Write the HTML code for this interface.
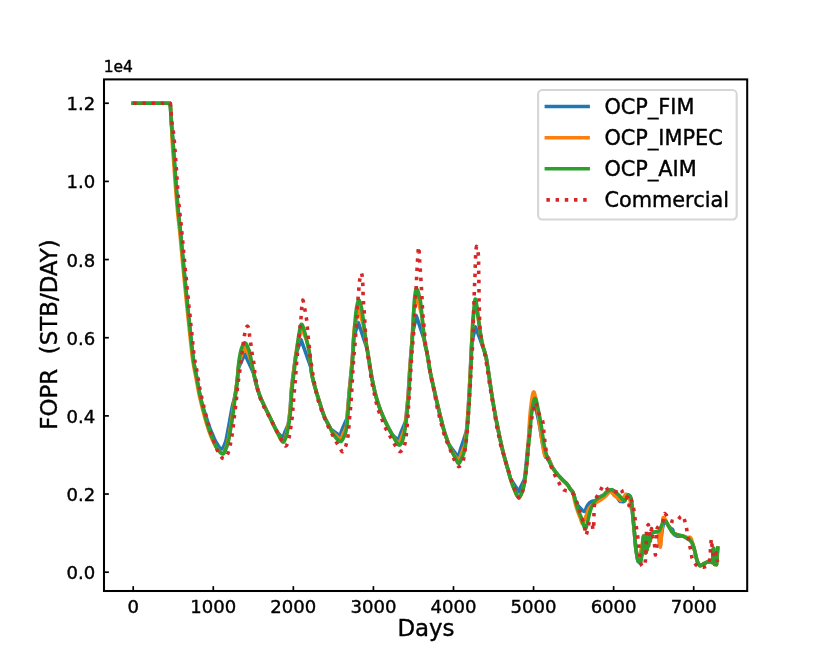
<!DOCTYPE html>
<html lang="en"><head><meta charset="utf-8"><title>FOPR</title>
<style>html,body{margin:0;padding:0;background:#fff;}body{width:830px;height:664px;overflow:hidden;}svg{display:block;}</style>
</head><body>
<svg width="830" height="664" viewBox="0 0 830 664">
<rect x="0" y="0" width="830" height="664" fill="#fff"/>
<g fill="none" stroke-linejoin="round">
<path d="M133.20 103.25 L138.80 103.25 L144.40 103.25 L150.00 103.25 L155.60 103.25 L161.20 103.25 L166.80 103.25 L170.00 103.25 L170.40 106.06 L170.80 112.56 L171.20 119.81 L171.60 125.34 L172.00 130.15 L172.40 134.85 L172.80 139.72 L173.20 144.99 L173.60 150.54 L174.00 156.19 L174.40 161.81 L174.80 167.50 L175.20 173.16 L175.60 178.66 L176.00 184.03 L176.40 189.30 L176.80 194.37 L177.20 199.24 L177.60 203.99 L178.00 208.56 L178.50 213.90 L178.80 216.85 L179.20 220.50 L179.60 223.99 L180.00 227.51 L180.50 232.20 L180.80 235.26 L181.20 239.53 L181.60 243.92 L182.00 248.33 L182.40 252.66 L182.80 257.00 L183.20 261.34 L183.60 265.63 L184.00 269.84 L184.40 273.97 L184.80 278.03 L185.20 282.06 L185.70 287.10 L186.00 290.14 L186.40 294.19 L186.80 298.23 L187.20 302.24 L187.60 306.18 L188.00 310.06 L188.40 313.89 L188.80 317.70 L189.40 323.40 L190.00 329.15 L190.40 332.98 L190.80 336.77 L191.30 341.40 L191.60 344.18 L192.00 347.94 L192.40 351.66 L192.80 355.18 L193.40 359.80 L194.00 363.62 L194.80 368.06 L195.60 372.10 L196.70 377.70 L197.60 382.63 L198.40 387.06 L199.20 391.35 L200.40 397.18 L201.60 402.33 L203.20 408.04 L204.80 412.88 L206.40 417.82 L208.00 422.78 L210.00 428.34 L212.00 433.33 L214.00 438.01 L215.60 441.44 L218.40 446.02 L219.60 447.69 L220.40 448.49 L220.80 448.77 L221.20 448.94 L221.60 449.00 L222.00 448.89 L222.40 448.59 L222.80 448.11 L223.60 446.74 L225.20 443.00 L225.60 441.79 L226.40 438.38 L227.20 434.22 L228.00 430.00 L228.80 425.78 L229.60 421.33 L230.40 416.89 L231.20 412.30 L232.30 406.50 L233.60 401.55 L234.80 396.51 L235.60 392.05 L236.40 386.81 L236.80 383.91 L237.30 380.00 L237.60 377.20 L238.00 372.64 L238.40 368.08 L240.80 362.80 L243.20 357.52 L244.80 354.00 L247.20 359.28 L249.60 364.56 L252.00 369.84 L253.60 373.36 L254.00 374.67 L255.20 380.00 L256.40 384.73 L258.00 390.42 L259.60 395.16 L261.60 400.09 L264.00 405.30 L266.40 410.29 L268.80 415.00 L271.20 419.96 L273.60 425.09 L276.00 429.99 L277.30 432.30 L281.20 436.20 L282.80 437.80 L284.72 432.52 L287.05 427.24 L287.85 425.48 L288.25 424.21 L289.05 418.96 L289.45 415.83 L289.85 412.28 L290.25 408.12 L290.65 401.60 L291.05 394.49 L291.45 389.46 L291.85 385.48 L292.25 382.00 L292.65 378.80 L293.05 375.67 L293.45 372.40 L293.89 368.98 L294.34 365.57 L294.78 362.20 L295.23 358.90 L295.89 354.10 L297.89 348.60 L299.60 343.80 L301.00 339.60 L302.80 344.64 L304.80 350.24 L306.80 355.84 L308.80 361.44 L310.80 367.04 L311.50 372.40 L312.40 377.20 L313.60 382.21 L315.20 387.99 L316.80 393.39 L318.40 398.63 L320.00 403.81 L321.60 408.80 L323.20 413.56 L324.90 418.00 L327.60 423.09 L330.00 427.49 L330.80 429.17 L331.20 429.58 L336.00 432.94 L339.80 435.60 L340.73 433.40 L342.65 428.12 L345.05 422.84 L346.65 419.32 L347.05 417.92 L347.45 412.90 L347.85 408.14 L348.25 403.26 L348.65 398.22 L349.05 393.31 L349.45 388.82 L349.85 384.73 L350.25 380.80 L350.65 376.78 L351.06 372.40 L351.51 367.66 L351.95 362.61 L352.39 357.09 L352.62 354.10 L352.84 350.73 L353.28 343.10 L353.61 337.80 L353.73 336.78 L355.50 331.66 L357.20 326.54 L358.40 322.70 L360.00 327.50 L361.60 332.30 L363.20 337.10 L364.80 341.90 L366.40 346.70 L367.20 349.36 L368.00 354.17 L368.80 359.19 L369.60 364.34 L370.40 369.42 L371.20 374.24 L372.00 378.60 L372.80 382.57 L374.00 388.18 L375.20 393.30 L376.40 397.87 L378.00 403.14 L379.60 407.82 L381.60 413.04 L383.60 417.77 L386.00 423.01 L388.40 427.80 L391.20 432.89 L392.80 435.52 L397.20 439.04 L398.40 440.00 L400.09 435.20 L401.05 432.32 L403.05 427.52 L405.05 422.72 L405.45 421.76 L406.05 417.50 L406.25 415.67 L406.65 411.45 L407.15 406.00 L407.45 403.05 L407.95 397.80 L408.25 393.66 L408.65 387.26 L408.85 384.00 L409.05 380.70 L409.45 373.85 L409.78 368.90 L409.89 367.34 L410.34 361.32 L410.78 355.61 L411.23 350.41 L411.67 344.80 L412.11 337.87 L412.56 333.30 L413.45 329.30 L414.33 325.30 L415.20 321.30 L416.30 315.80 L418.00 320.90 L419.60 325.70 L421.20 330.50 L423.00 335.90 L424.00 338.90 L424.40 340.29 L425.20 344.99 L426.40 350.21 L427.20 354.00 L428.00 358.83 L428.80 364.08 L429.60 368.90 L430.40 372.99 L431.60 378.59 L432.80 383.87 L434.00 389.10 L435.20 394.69 L436.40 399.97 L437.60 404.94 L438.80 409.98 L440.10 415.40 L441.20 419.78 L442.40 424.40 L443.60 428.98 L445.20 434.44 L447.20 440.02 L448.80 444.20 L452.00 448.68 L455.20 453.16 L458.30 457.50 L459.67 452.40 L460.65 448.80 L462.25 444.00 L463.85 439.20 L465.45 434.40 L466.25 432.00 L466.65 428.90 L467.05 424.40 L467.45 419.40 L467.85 413.95 L468.25 408.08 L468.65 401.41 L468.85 397.80 L469.06 394.04 L469.51 386.07 L469.95 377.63 L470.39 368.90 L470.39 368.90 L470.84 359.56 L471.28 350.05 L471.39 347.80 L471.73 342.30 L473.06 337.02 L474.39 331.74 L475.50 326.90 L477.20 331.49 L479.20 336.89 L481.20 342.29 L483.20 347.69 L484.80 352.42 L485.70 355.50 L486.40 358.90 L487.20 363.69 L488.00 368.96 L488.80 374.20 L489.60 379.71 L490.40 385.40 L491.20 390.90 L492.00 396.00 L492.80 400.92 L493.60 405.69 L494.40 410.30 L495.30 415.30 L496.40 421.02 L497.20 424.98 L498.00 428.92 L499.20 434.78 L500.40 440.48 L501.60 445.92 L502.80 451.00 L504.00 455.66 L505.60 461.41 L507.20 466.95 L508.80 472.69 L510.40 478.36 L513.20 482.84 L516.00 487.32 L518.80 491.80 L520.72 487.00 L523.15 482.00 L524.25 479.80 L524.65 477.58 L525.05 474.28 L525.45 470.79 L526.05 465.40 L526.25 463.47 L526.65 459.05 L527.05 454.36 L527.45 450.00 L527.85 446.26 L528.25 442.84 L528.65 439.42 L529.25 433.60 L529.45 431.11 L529.89 424.97 L530.34 418.95 L530.78 415.00 L531.67 410.87 L532.56 407.65 L533.00 406.47 L533.45 405.61 L533.89 405.12 L534.22 405.00 L534.33 405.02 L534.78 405.44 L535.20 406.33 L536.00 409.05 L537.20 413.77 L538.40 419.33 L539.20 423.60 L540.00 428.00 L540.80 432.80 L541.60 438.00 L542.40 442.92 L543.20 446.92 L544.40 452.67 L545.20 455.80 L545.60 456.85 L546.00 457.42 L546.20 457.50 L546.40 457.40 L546.80 456.91 L547.10 456.70 L547.60 456.88 L548.00 457.27 L548.40 457.84 L549.20 459.41 L551.20 464.58 L552.40 467.41 L555.60 472.09 L559.20 476.34 L563.20 480.44 L566.80 483.84 L568.40 485.85 L570.00 488.80 L572.40 491.44 L572.90 492.20 L573.20 492.85 L574.00 495.50 L575.20 500.13 L575.80 501.80 L577.60 505.00 L579.20 507.13 L582.40 510.33 L583.20 510.95 L584.00 511.33 L584.50 511.40 L584.80 511.26 L585.20 510.70 L586.80 506.68 L587.30 505.70 L588.80 503.61 L589.60 502.75 L591.20 501.77 L593.20 501.05 L595.20 500.78 L595.60 500.63 L596.40 500.01 L598.40 497.89 L599.60 497.09 L603.20 495.41 L604.00 494.87 L606.80 491.81 L607.60 491.20 L610.00 490.06 L611.60 489.81 L612.40 490.00 L613.60 490.69 L615.30 492.20 L615.60 492.60 L616.00 493.39 L617.60 497.69 L618.40 499.20 L619.60 500.95 L620.00 501.35 L620.40 501.57 L623.60 501.59 L624.00 501.42 L624.40 501.05 L626.80 497.31 L627.60 495.69 L628.00 495.14 L628.40 495.01 L628.80 495.13 L629.20 495.39 L630.20 496.50 L630.40 496.85 L630.80 498.02 L631.40 500.80 L631.60 502.39 L632.10 508.10 L632.40 511.28 L632.90 516.60 L633.20 519.72 L633.60 523.81 L634.00 527.97 L634.40 532.37 L634.80 537.32 L635.20 542.26 L635.80 548.20 L636.40 552.54 L637.20 557.55 L637.60 559.46 L638.00 560.81 L638.40 561.53 L639.20 562.36 L639.60 562.61 L640.00 562.70 L640.40 562.19 L640.80 560.81 L641.60 556.25 L642.00 553.42 L642.40 548.96 L642.80 543.02 L643.00 539.80 L643.60 536.00 L644.20 552.00 L644.90 537.00 L645.60 553.00 L646.30 536.00 L647.00 550.00 L647.70 535.00 L648.50 546.00 L649.30 534.50 L650.20 541.00 L651.00 533.70 L652.60 532.58 L653.80 532.09 L655.10 531.90 L656.60 532.09 L657.80 532.57 L658.50 533.00 L658.60 533.23 L659.00 536.63 L659.40 541.79 L659.80 545.77 L660.00 546.40 L660.20 546.00 L660.60 543.32 L661.00 539.33 L661.60 534.00 L662.20 530.27 L663.00 525.79 L663.40 524.26 L663.80 523.50 L664.60 522.99 L665.40 522.67 L666.00 522.60 L666.20 522.64 L666.60 522.90 L667.00 523.36 L668.60 525.97 L670.20 527.79 L671.00 528.50 L672.20 529.16 L672.60 529.50 L673.00 530.60 L673.80 533.93 L674.00 534.30 L675.40 535.34 L676.60 535.88 L678.20 536.10 L683.00 536.11 L683.80 536.27 L685.40 537.05 L689.80 540.06 L691.40 541.73 L692.20 543.13 L693.80 547.30 L695.00 552.09 L696.20 557.30 L697.00 560.58 L698.20 563.30 L699.00 564.68 L699.40 565.19 L699.80 565.53 L700.30 565.70 L700.60 565.66 L701.40 565.28 L703.40 563.85 L706.60 562.28 L707.80 562.01 L713.00 562.00 L712.40 562.50 L713.50 548.20 L714.60 564.50 L715.60 553.00 L716.50 564.60 L717.70 548.20" stroke="#1f77b4" stroke-width="3.6" stroke-linecap="square"/>
<path d="M133.20 103.25 L138.80 103.25 L144.40 103.25 L150.00 103.25 L155.60 103.25 L161.20 103.25 L166.80 103.25 L170.00 103.25 L170.40 105.68 L170.80 111.64 L171.20 119.12 L171.40 122.80 L171.60 126.98 L172.00 136.84 L172.20 141.00 L172.40 144.30 L172.80 149.94 L173.20 155.02 L173.60 160.40 L174.00 166.08 L174.40 171.76 L174.80 177.30 L175.20 182.70 L175.60 188.00 L176.00 193.12 L176.40 198.03 L176.80 202.82 L177.20 207.44 L177.60 211.82 L178.00 215.89 L178.40 219.61 L178.80 223.12 L179.20 226.62 L179.80 232.20 L180.00 234.22 L180.40 238.45 L180.80 242.82 L181.20 247.23 L181.60 251.58 L182.00 255.91 L182.40 260.26 L182.80 264.57 L183.20 268.80 L183.60 272.94 L184.00 277.02 L184.40 281.05 L184.80 285.08 L185.20 289.12 L185.60 293.18 L186.00 297.23 L186.40 301.24 L186.80 305.20 L187.20 309.09 L187.60 312.94 L188.00 316.75 L188.40 320.55 L188.80 324.35 L189.20 328.19 L189.60 332.02 L190.00 335.82 L190.60 341.40 L191.20 347.00 L191.60 350.74 L192.00 354.33 L192.70 359.80 L193.60 365.35 L194.40 369.60 L195.20 373.59 L196.00 377.70 L196.80 382.08 L197.60 386.51 L198.40 390.83 L199.40 395.80 L200.40 400.17 L201.60 405.00 L202.80 409.80 L204.00 414.52 L205.20 419.00 L206.80 424.38 L208.40 429.31 L210.40 434.96 L212.70 440.50 L215.20 445.54 L216.80 448.16 L220.00 452.02 L221.20 453.12 L222.00 453.60 L222.90 453.80 L223.16 453.74 L223.49 453.48 L223.82 453.03 L224.48 451.68 L226.35 446.62 L227.15 444.25 L227.95 441.05 L228.75 437.11 L229.55 432.70 L230.35 428.05 L231.15 423.26 L231.95 417.92 L232.75 412.17 L233.15 409.18 L233.55 406.15 L233.99 403.10 L234.53 399.30 L235.29 394.00 L235.73 390.91 L236.17 387.73 L236.60 384.41 L237.15 380.00 L237.47 376.97 L237.91 372.31 L238.35 367.44 L238.78 362.89 L239.20 361.30 L241.20 356.30 L243.20 351.30 L245.20 346.30 L247.20 351.30 L249.20 356.30 L251.20 361.30 L251.60 362.39 L252.40 366.87 L253.20 370.84 L254.40 376.53 L255.60 381.61 L256.80 386.23 L258.40 391.71 L260.40 397.23 L262.40 401.87 L264.80 407.00 L267.20 411.86 L269.60 416.61 L272.00 421.67 L274.40 426.77 L276.80 431.50 L279.20 436.21 L280.80 439.38 L281.60 440.65 L282.40 441.55 L282.80 441.83 L283.33 442.00 L283.49 441.95 L283.82 441.60 L284.15 440.97 L285.95 435.77 L286.75 432.52 L287.55 428.60 L288.35 424.21 L289.15 418.96 L289.55 415.83 L289.95 412.28 L290.35 408.12 L290.75 401.60 L291.15 394.49 L291.55 389.46 L291.95 385.48 L292.35 382.00 L292.75 378.80 L293.15 375.67 L293.55 372.40 L293.99 368.98 L294.42 365.57 L294.86 362.20 L295.29 358.90 L295.95 354.10 L296.60 349.61 L297.47 343.74 L297.91 341.60 L299.60 336.00 L301.20 330.40 L301.80 328.30 L304.00 333.80 L306.00 338.80 L306.80 340.90 L308.00 345.84 L308.80 349.53 L309.60 354.10 L310.00 357.38 L310.40 361.60 L310.80 366.06 L311.20 370.08 L311.60 373.02 L312.40 377.20 L313.60 382.21 L315.20 387.99 L316.80 393.39 L318.40 398.63 L320.00 403.81 L321.60 408.80 L323.20 413.56 L324.90 418.00 L327.60 423.09 L330.00 427.49 L332.00 431.60 L336.00 435.60 L340.00 439.60 L340.66 440.30 L342.75 434.80 L345.15 429.52 L346.05 427.54 L346.35 426.58 L346.75 422.67 L347.15 417.92 L347.55 412.90 L347.95 408.14 L348.35 403.26 L348.75 398.22 L349.15 393.31 L349.55 388.82 L349.95 384.73 L350.35 380.80 L350.75 376.78 L351.16 372.40 L351.60 367.66 L352.03 362.61 L352.47 357.09 L352.69 354.10 L352.90 350.73 L353.34 343.10 L353.67 337.80 L353.78 336.23 L354.21 330.10 L354.65 325.90 L355.96 321.10 L357.20 316.30 L358.40 311.50 L358.90 309.50 L360.40 314.75 L362.00 320.35 L363.60 325.95 L364.00 327.35 L364.40 329.53 L364.80 333.03 L365.40 337.80 L366.00 341.92 L366.80 346.95 L367.60 351.75 L368.40 356.65 L369.20 361.76 L370.00 366.90 L370.80 371.88 L371.60 376.49 L372.40 380.61 L373.60 386.36 L374.80 391.65 L376.00 396.41 L377.60 401.88 L379.20 406.70 L381.20 412.05 L383.20 416.86 L385.60 422.17 L388.00 427.03 L390.80 432.19 L393.60 436.90 L395.20 439.80 L399.25 443.90 L400.80 439.15 L402.75 434.15 L404.35 430.15 L404.75 428.23 L405.55 422.41 L406.15 417.50 L406.35 415.67 L406.75 411.45 L407.25 406.00 L407.55 403.05 L408.05 397.80 L408.35 393.66 L408.75 387.26 L408.95 384.00 L409.15 380.70 L409.55 373.85 L409.88 368.90 L409.99 367.34 L410.42 361.32 L410.86 355.61 L411.29 350.41 L411.73 344.80 L412.17 337.87 L412.60 330.20 L412.82 326.40 L413.04 322.43 L413.47 313.72 L413.91 310.50 L414.78 306.50 L415.60 302.50 L416.40 298.50 L416.90 296.00 L418.00 300.40 L419.20 305.20 L420.40 310.00 L421.60 314.80 L422.00 316.40 L422.40 320.24 L422.80 324.44 L423.20 328.39 L423.60 332.64 L424.00 336.80 L424.50 341.00 L425.20 344.99 L426.40 350.21 L427.20 354.00 L428.00 358.83 L428.80 364.08 L429.60 368.90 L430.40 372.99 L431.60 378.59 L432.80 383.87 L434.00 389.10 L435.20 394.69 L436.40 399.97 L437.60 404.94 L438.80 409.98 L440.10 415.40 L441.20 419.78 L442.40 424.40 L443.60 428.98 L445.20 434.44 L447.20 440.02 L449.20 445.28 L451.20 450.06 L454.00 454.54 L456.80 459.02 L458.58 461.90 L460.39 456.40 L462.35 451.40 L464.55 445.90 L465.15 444.40 L465.55 441.09 L465.95 437.25 L466.35 433.13 L466.75 428.90 L467.15 424.40 L467.55 419.40 L467.95 413.95 L468.35 408.08 L468.75 401.41 L468.95 397.80 L469.16 394.04 L469.60 386.07 L470.03 377.63 L470.47 368.90 L470.47 368.90 L470.90 359.56 L471.34 350.05 L471.45 347.80 L471.78 340.96 L472.21 331.76 L472.65 323.60 L473.08 317.90 L473.96 313.10 L474.80 308.30 L475.60 303.50 L476.80 308.30 L477.20 309.90 L477.60 312.60 L478.00 315.92 L478.80 321.78 L479.20 324.83 L479.60 327.89 L480.40 333.40 L481.20 337.97 L482.00 342.10 L483.30 347.80 L484.80 352.42 L485.70 355.50 L486.40 358.90 L487.20 363.69 L488.00 368.96 L488.80 374.20 L489.60 379.71 L490.40 385.40 L491.20 390.90 L492.00 396.00 L492.80 400.92 L493.60 405.69 L494.40 410.30 L495.30 415.30 L496.40 421.02 L497.20 424.98 L498.00 428.92 L499.20 434.78 L500.40 440.48 L501.60 445.92 L502.80 451.00 L504.00 455.66 L505.60 461.41 L507.20 466.95 L508.80 472.69 L510.40 478.46 L512.00 483.66 L514.00 488.80 L516.00 493.61 L516.80 495.18 L517.60 496.37 L518.00 496.79 L518.40 497.07 L518.90 497.20 L519.20 497.14 L519.60 496.90 L520.00 496.47 L520.80 495.14 L521.60 493.27 L523.20 488.34 L524.00 485.36 L524.80 480.59 L525.20 477.58 L525.60 474.28 L526.00 470.79 L526.60 465.40 L527.20 459.70 L527.60 455.26 L528.00 450.00 L528.40 442.42 L528.80 433.67 L529.00 430.00 L529.20 426.83 L529.60 420.77 L530.00 415.31 L530.40 410.72 L530.80 407.21 L531.20 404.07 L532.00 398.26 L532.40 395.83 L532.80 393.89 L533.20 392.54 L533.60 391.93 L533.70 391.90 L534.00 392.10 L534.40 392.94 L534.80 394.28 L536.00 400.00 L536.80 404.13 L537.60 409.34 L538.40 415.21 L539.20 421.00 L540.00 426.77 L540.40 429.76 L541.20 435.60 L542.00 440.84 L542.80 445.54 L543.60 450.31 L544.40 454.14 L544.80 455.39 L545.20 456.00 L547.20 456.76 L547.60 457.12 L548.40 458.27 L550.40 462.78 L552.00 466.62 L553.20 468.76 L556.40 473.09 L560.00 477.23 L564.00 481.14 L566.80 483.84 L568.40 485.85 L570.00 488.80 L570.80 489.72 L572.00 490.83 L572.40 491.34 L572.90 492.20 L573.20 493.18 L574.00 497.80 L574.50 500.50 L576.00 506.13 L577.60 511.08 L579.60 516.26 L580.40 518.26 L581.60 522.04 L582.00 523.00 L582.40 523.48 L582.50 523.50 L582.80 523.38 L583.20 522.92 L584.00 521.29 L585.60 517.54 L587.20 512.87 L588.40 509.64 L588.80 508.80 L589.60 507.63 L591.20 505.98 L596.00 502.62 L601.20 499.69 L605.70 496.20 L608.80 492.59 L609.60 491.91 L610.00 491.70 L610.50 491.60 L610.80 491.65 L611.20 491.86 L612.00 492.63 L614.00 495.21 L618.40 498.56 L620.00 500.06 L620.40 500.33 L621.00 500.50 L621.20 500.46 L621.60 500.18 L624.00 496.85 L625.20 495.00 L625.60 494.55 L626.00 494.27 L626.40 494.21 L626.80 494.35 L627.20 494.66 L628.00 495.61 L628.80 496.83 L629.20 497.69 L629.60 498.80 L630.20 501.00 L630.40 502.31 L630.80 506.20 L631.20 508.40 L632.10 508.10 L632.40 510.05 L632.80 515.43 L633.20 519.72 L633.60 523.81 L634.00 527.97 L634.40 532.39 L634.80 537.43 L635.20 542.45 L635.80 548.20 L636.40 551.86 L636.80 553.88 L637.20 555.46 L637.60 556.50 L638.40 557.83 L638.80 558.28 L639.30 558.50 L639.60 557.96 L640.00 556.00 L640.80 551.00 L641.60 546.95 L642.40 542.88 L643.00 539.80 L643.60 536.00 L644.20 552.00 L644.90 537.00 L645.60 553.00 L646.30 536.00 L647.00 550.00 L647.70 535.00 L648.50 546.00 L649.30 534.50 L650.20 541.00 L651.00 533.70 L652.20 532.80 L653.40 532.21 L654.60 531.93 L655.80 531.95 L657.00 532.28 L658.30 533.00 L658.60 534.00 L659.00 537.15 L659.40 541.20 L659.80 544.88 L660.20 546.90 L660.30 547.00 L660.60 545.87 L661.00 541.75 L661.40 536.23 L661.80 531.04 L662.20 526.73 L662.60 522.06 L663.00 518.49 L663.30 517.50 L663.80 517.68 L664.20 518.04 L665.40 519.65 L665.80 520.41 L667.50 524.50 L670.20 529.00 L671.80 531.64 L672.60 532.62 L673.40 533.22 L679.00 535.18 L683.40 536.30 L686.20 537.39 L687.50 537.60 L690.00 537.30 L690.20 537.35 L690.60 537.72 L691.00 538.40 L691.80 540.49 L693.40 546.00 L694.60 550.43 L695.80 555.48 L696.60 559.07 L697.00 560.58 L698.20 563.30 L699.00 564.68 L699.40 565.19 L699.80 565.53 L700.30 565.70 L700.60 565.66 L701.40 565.28 L703.40 563.85 L706.60 562.28 L707.80 562.01 L713.00 562.00 L712.40 562.50 L713.50 548.20 L714.60 564.50 L715.60 553.00 L716.50 564.60 L717.70 548.20" stroke="#ff7f0e" stroke-width="3.6" stroke-linecap="square"/>
<path d="M133.20 103.25 L138.80 103.25 L144.40 103.25 L150.00 103.25 L155.60 103.25 L161.20 103.25 L166.80 103.25 L170.00 103.25 L170.40 106.06 L170.80 112.56 L171.20 119.81 L171.60 125.34 L172.00 130.15 L172.40 134.85 L172.80 139.72 L173.20 144.99 L173.60 150.54 L174.00 156.19 L174.40 161.81 L174.80 167.50 L175.20 173.16 L175.60 178.66 L176.00 184.03 L176.40 189.30 L176.80 194.37 L177.20 199.24 L177.60 203.99 L178.00 208.56 L178.50 213.90 L178.80 216.85 L179.20 220.50 L179.60 223.99 L180.00 227.51 L180.50 232.20 L180.80 235.26 L181.20 239.53 L181.60 243.92 L182.00 248.33 L182.40 252.66 L182.80 257.00 L183.20 261.34 L183.60 265.63 L184.00 269.84 L184.40 273.97 L184.80 278.03 L185.20 282.06 L185.70 287.10 L186.00 290.14 L186.40 294.19 L186.80 298.23 L187.20 302.24 L187.60 306.18 L188.00 310.06 L188.40 313.89 L188.80 317.70 L189.40 323.40 L190.00 329.15 L190.40 332.98 L190.80 336.77 L191.30 341.40 L191.60 344.18 L192.00 347.94 L192.40 351.66 L192.80 355.18 L193.40 359.80 L194.00 363.62 L194.80 368.06 L195.60 372.10 L196.70 377.70 L197.60 382.63 L198.40 387.06 L199.20 391.35 L200.40 397.16 L201.60 402.20 L202.80 407.00 L204.00 411.78 L205.20 416.42 L206.80 422.12 L208.40 427.15 L210.00 431.79 L212.00 437.10 L214.00 441.92 L216.00 446.50 L217.20 448.65 L220.00 452.07 L221.20 453.14 L222.00 453.60 L222.90 453.80 L223.20 453.74 L223.60 453.48 L224.00 453.03 L224.80 451.68 L226.80 446.62 L227.60 444.25 L228.40 441.05 L229.20 437.11 L230.00 432.70 L230.80 428.05 L231.60 423.26 L232.40 417.92 L233.20 412.17 L233.60 409.18 L234.00 406.15 L234.40 403.10 L234.90 399.30 L235.60 394.00 L236.00 390.91 L236.40 387.73 L236.80 384.41 L237.30 380.00 L237.60 376.97 L238.00 372.31 L238.40 367.44 L238.80 362.89 L239.40 357.80 L240.40 352.57 L241.20 349.34 L242.00 346.97 L243.20 344.51 L244.00 343.29 L244.40 342.93 L244.80 342.80 L245.20 342.90 L245.60 343.17 L246.00 343.61 L246.80 344.90 L249.00 350.10 L249.60 352.07 L250.40 355.73 L251.20 360.10 L252.00 364.67 L252.90 369.40 L254.00 374.67 L255.20 380.00 L256.40 384.73 L258.00 390.42 L259.60 395.16 L261.60 400.09 L264.00 405.30 L266.40 410.29 L268.80 415.00 L271.20 419.96 L273.60 425.09 L276.00 429.99 L278.40 434.53 L280.80 439.38 L281.60 440.65 L282.40 441.55 L282.80 441.83 L283.40 442.00 L283.60 441.95 L284.00 441.60 L284.40 440.97 L286.00 437.03 L286.80 434.25 L288.00 428.60 L288.80 424.21 L289.60 418.96 L290.00 415.83 L290.40 412.28 L290.80 408.12 L291.20 401.60 L291.60 394.49 L292.00 389.46 L292.40 385.48 L292.80 382.00 L293.20 378.80 L293.60 375.67 L294.00 372.40 L294.40 368.98 L294.80 365.57 L295.20 362.20 L295.60 358.90 L296.20 354.10 L296.80 349.61 L297.60 343.74 L298.00 340.52 L298.80 334.80 L299.60 330.48 L300.40 326.70 L301.00 324.85 L301.20 324.50 L301.50 324.30 L301.80 324.41 L302.00 324.59 L302.40 325.20 L303.20 327.17 L304.90 332.80 L306.00 337.32 L307.20 342.55 L308.40 347.61 L309.20 351.67 L309.60 354.10 L310.00 357.38 L310.40 361.60 L310.80 366.06 L311.20 370.08 L311.60 373.02 L312.40 377.20 L313.60 382.21 L315.20 387.99 L316.80 393.39 L318.40 398.63 L320.00 403.81 L321.60 408.80 L323.20 413.56 L324.90 418.00 L327.60 423.09 L330.00 427.49 L332.40 432.49 L334.80 436.37 L336.80 438.85 L339.20 440.96 L340.00 441.44 L340.80 441.59 L341.20 441.43 L341.60 441.08 L342.40 439.94 L344.40 435.93 L345.20 433.81 L346.00 430.93 L346.50 428.60 L346.80 426.58 L347.20 422.67 L347.60 417.92 L348.00 412.90 L348.40 408.14 L348.80 403.26 L349.20 398.22 L349.60 393.31 L350.00 388.82 L350.40 384.73 L350.80 380.80 L351.20 376.78 L351.60 372.40 L352.00 367.66 L352.40 362.61 L352.80 357.09 L353.00 354.10 L353.20 350.73 L353.60 343.10 L353.90 337.80 L354.00 336.23 L354.40 330.10 L354.80 324.47 L355.30 318.60 L355.60 315.65 L356.00 312.02 L356.40 308.91 L356.90 306.00 L357.60 302.93 L358.00 301.48 L358.40 300.47 L358.80 300.10 L358.90 300.12 L359.20 300.36 L359.60 301.08 L360.00 302.15 L361.20 306.50 L361.60 308.36 L362.40 313.50 L363.20 319.33 L363.60 322.52 L364.00 325.97 L364.40 329.53 L364.80 333.03 L365.40 337.80 L366.00 341.92 L366.80 346.95 L367.60 351.75 L368.40 356.65 L369.20 361.76 L370.00 366.90 L370.80 371.88 L371.60 376.49 L372.40 380.61 L373.60 386.36 L374.80 391.65 L376.00 396.41 L377.60 401.88 L379.20 406.70 L381.20 412.05 L383.20 416.86 L385.60 422.17 L388.00 427.03 L390.80 432.19 L393.60 436.90 L396.40 442.07 L397.60 443.88 L398.40 444.70 L398.80 444.95 L399.40 445.10 L399.60 445.07 L400.00 444.87 L400.40 444.50 L401.20 443.36 L402.40 441.06 L402.80 439.91 L403.60 436.79 L404.40 433.00 L405.20 428.23 L406.00 422.41 L406.60 417.50 L406.80 415.67 L407.20 411.45 L407.70 406.00 L408.00 403.05 L408.50 397.80 L408.80 393.66 L409.20 387.26 L409.40 384.00 L409.60 380.70 L410.00 373.85 L410.30 368.90 L410.40 367.34 L410.80 361.32 L411.20 355.61 L411.60 350.41 L412.00 344.80 L412.40 337.87 L412.80 330.20 L413.00 326.40 L413.20 322.43 L413.60 313.72 L414.00 305.60 L414.40 300.00 L414.80 296.42 L415.20 293.24 L415.60 290.74 L416.00 289.18 L416.30 288.80 L416.80 289.05 L417.20 289.59 L417.60 290.39 L418.40 292.65 L419.60 297.24 L420.40 301.00 L420.80 303.91 L421.20 307.50 L421.60 311.56 L422.00 315.88 L422.40 320.24 L422.80 324.44 L423.20 328.39 L423.60 332.64 L424.00 336.80 L424.50 341.00 L425.20 344.99 L426.40 350.21 L427.20 354.00 L428.00 358.83 L428.80 364.08 L429.60 368.90 L430.40 372.99 L431.60 378.59 L432.80 383.87 L434.00 389.10 L435.20 394.69 L436.40 399.97 L437.60 404.94 L438.80 409.98 L440.10 415.40 L441.20 419.78 L442.40 424.40 L443.60 428.98 L445.20 434.44 L447.20 440.02 L449.20 445.28 L451.20 450.10 L453.60 454.91 L455.60 458.57 L457.20 461.93 L457.60 462.60 L458.00 463.09 L458.40 463.36 L458.80 463.36 L459.20 463.10 L459.60 462.62 L460.40 461.16 L462.80 455.70 L463.60 453.51 L464.40 450.76 L465.20 447.15 L465.60 444.45 L466.00 441.09 L466.40 437.25 L466.80 433.13 L467.20 428.90 L467.60 424.40 L468.00 419.40 L468.40 413.95 L468.80 408.08 L469.20 401.41 L469.40 397.80 L469.60 394.04 L470.00 386.07 L470.40 377.63 L470.80 368.90 L470.80 368.90 L471.20 359.56 L471.60 350.05 L471.70 347.80 L472.00 340.96 L472.40 331.76 L472.80 323.60 L473.10 318.90 L473.20 317.60 L473.60 312.42 L474.00 307.56 L474.40 303.45 L474.80 300.48 L475.20 299.06 L475.30 299.00 L475.50 299.16 L476.00 300.75 L476.40 303.02 L476.80 305.91 L477.20 309.18 L477.60 312.60 L478.00 315.92 L478.80 321.78 L479.20 324.83 L479.60 327.89 L480.40 333.40 L481.20 337.97 L482.00 342.10 L483.30 347.80 L484.80 352.42 L485.70 355.50 L486.40 358.90 L487.20 363.69 L488.00 368.96 L488.80 374.20 L489.60 379.71 L490.40 385.40 L491.20 390.90 L492.00 396.00 L492.80 400.92 L493.60 405.69 L494.40 410.30 L495.30 415.30 L496.40 421.02 L497.20 424.98 L498.00 428.92 L499.20 434.78 L500.40 440.48 L501.60 445.92 L502.80 451.00 L504.00 455.66 L505.60 461.41 L507.20 466.95 L508.80 472.69 L510.40 478.46 L512.00 483.66 L514.00 488.80 L516.00 493.61 L516.80 495.18 L517.60 496.37 L518.00 496.79 L518.40 497.07 L518.90 497.20 L519.20 497.14 L519.60 496.90 L520.00 496.47 L520.80 495.14 L521.60 493.27 L523.20 488.34 L524.00 485.36 L524.80 480.59 L525.20 477.58 L525.60 474.28 L526.00 470.79 L526.60 465.40 L526.80 463.47 L527.20 459.05 L527.60 454.36 L528.00 450.00 L528.40 446.20 L528.80 442.67 L529.20 439.19 L529.80 433.60 L530.00 431.46 L530.40 426.58 L530.80 421.46 L531.20 416.75 L531.70 412.40 L532.40 408.15 L533.20 403.81 L534.00 400.46 L534.40 399.30 L534.80 398.56 L535.20 398.30 L535.60 398.63 L536.00 399.54 L536.40 400.91 L537.60 406.59 L538.80 412.34 L539.60 416.34 L540.40 420.70 L541.30 425.90 L542.00 430.47 L542.80 436.25 L543.60 441.77 L544.40 446.18 L545.60 451.55 L546.80 455.83 L548.80 460.90 L551.20 465.55 L554.40 470.50 L558.00 474.98 L562.00 479.34 L566.40 483.41 L568.40 485.85 L570.00 488.80 L572.40 491.44 L572.90 492.20 L573.20 492.81 L574.00 495.17 L575.20 499.66 L576.80 505.24 L578.40 510.54 L579.60 513.58 L581.20 517.13 L582.00 519.51 L583.20 524.01 L584.40 527.34 L584.80 528.22 L585.20 528.73 L585.40 528.80 L585.60 528.71 L586.00 528.01 L586.40 526.81 L587.80 521.10 L588.80 516.68 L590.00 511.73 L591.20 508.11 L592.40 505.28 L594.00 502.32 L595.20 500.68 L597.20 498.73 L599.20 497.32 L603.20 495.41 L604.00 494.87 L606.80 491.81 L607.60 491.20 L610.00 490.06 L611.40 489.80 L612.00 489.90 L612.80 490.28 L617.20 493.66 L619.20 495.50 L621.60 498.49 L623.60 500.43 L624.00 500.68 L624.50 500.80 L624.80 500.67 L625.20 500.19 L627.60 495.67 L628.00 495.14 L628.40 495.01 L628.80 495.13 L629.20 495.39 L630.20 496.50 L630.40 496.85 L630.80 498.02 L631.40 500.80 L631.60 502.39 L632.10 508.10 L632.40 511.28 L632.90 516.60 L633.20 519.72 L633.60 523.81 L634.00 527.97 L634.40 532.37 L634.80 537.32 L635.20 542.26 L635.80 548.20 L636.40 552.54 L637.20 557.55 L637.60 559.46 L638.00 560.81 L638.40 561.53 L639.20 562.36 L639.60 562.61 L640.00 562.70 L640.40 562.19 L640.80 560.81 L641.60 556.25 L642.00 553.42 L642.40 548.96 L642.80 543.02 L643.00 539.80 L643.60 536.00 L644.20 552.00 L644.90 537.00 L645.60 553.00 L646.30 536.00 L647.00 550.00 L647.70 535.00 L648.50 546.00 L649.30 534.50 L650.20 541.00 L651.00 533.70 L653.80 532.31 L655.80 531.77 L658.20 531.44 L658.70 531.30 L659.00 531.08 L659.40 530.48 L661.40 525.87 L662.60 523.12 L663.00 522.37 L663.40 521.85 L664.20 521.40 L665.00 521.14 L665.40 521.10 L665.80 521.26 L666.20 521.70 L667.00 523.12 L668.60 526.22 L671.40 531.05 L672.20 532.17 L673.20 533.10 L676.20 534.37 L681.80 535.80 L684.60 536.84 L689.00 539.45 L690.60 540.80 L691.40 541.73 L692.20 543.13 L693.80 547.30 L695.00 552.09 L696.20 557.30 L697.00 560.58 L698.20 563.30 L699.00 564.68 L699.40 565.19 L699.80 565.53 L700.30 565.70 L700.60 565.66 L701.40 565.28 L703.40 563.85 L706.60 562.28 L707.80 562.01 L713.00 562.00 L712.40 562.50 L713.50 548.20 L714.60 564.50 L715.60 553.00 L716.50 564.60 L717.70 548.20" stroke="#2ca02c" stroke-width="3.6" stroke-linecap="square"/>
<path d="M133.20 103.30 L143.70 103.30 L153.20 103.30 L162.00 103.30 L170.40 103.40 L170.63 106.64 L170.85 109.88 L171.10 113.10 L171.37 116.22 L171.66 119.32 L172.00 122.40 L172.41 125.41 L172.87 128.39 L173.30 131.40 L173.67 134.49 L174.00 137.60 L174.30 140.70 L174.56 143.74 L174.78 146.77 L175.00 149.80 L175.20 152.86 L175.40 155.94 L175.60 159.00 L175.83 162.04 L176.07 165.06 L176.30 168.10 L176.51 171.16 L176.70 174.24 L176.90 177.30 L177.10 180.34 L177.29 183.37 L177.50 186.40 L177.72 189.46 L177.96 192.53 L178.20 195.60 L178.46 198.70 L178.72 201.81 L179.00 204.90 L179.28 207.91 L179.58 210.90 L179.90 213.90 L180.26 216.96 L180.65 220.03 L181.00 223.10 L181.28 226.14 L181.54 229.17 L181.80 232.20 L182.10 235.20 L182.40 238.19 L182.70 241.20 L182.97 244.29 L183.23 247.40 L183.50 250.50 L183.80 253.57 L184.10 256.64 L184.40 259.70 L184.67 262.74 L184.92 265.77 L185.20 268.80 L185.53 271.83 L185.87 274.86 L186.20 277.90 L186.47 280.96 L186.73 284.04 L187.00 287.10 L187.33 290.14 L187.67 293.17 L188.00 296.20 L188.27 299.20 L188.52 302.20 L188.80 305.20 L189.16 308.20 L189.54 311.19 L189.90 314.20 L190.18 317.26 L190.43 320.34 L190.70 323.40 L191.02 326.41 L191.37 329.40 L191.70 332.40 L192.01 335.40 L192.30 338.40 L192.60 341.40 L192.89 344.43 L193.18 347.46 L193.50 350.50 L193.86 353.61 L194.25 356.73 L194.70 359.80 L195.83 365.52 L196.40 368.40 L196.95 371.48 L197.48 374.60 L198.00 377.70 L198.49 380.71 L198.97 383.70 L199.50 386.70 L200.10 389.73 L200.75 392.76 L201.40 395.80 L202.05 398.87 L202.71 401.95 L203.40 405.00 L204.11 407.98 L204.84 410.95 L205.60 413.90 L206.39 416.84 L207.19 419.77 L208.00 422.70 L208.78 425.68 L209.56 428.66 L210.40 431.60 L212.29 437.20 L213.30 440.00 L214.34 442.92 L215.42 445.86 L216.60 448.70 L217.84 451.43 L219.18 454.08 L220.60 456.20 L221.65 457.36 L222.73 458.27 L223.80 458.60 L224.92 458.06 L226.02 456.87 L227.00 455.40 L228.12 452.87 L229.02 449.80 L229.80 446.70 L230.49 443.76 L231.07 440.79 L231.60 437.80 L232.11 434.74 L232.58 431.67 L233.00 428.60 L233.36 425.60 L233.67 422.60 L234.00 419.60 L234.36 416.54 L234.73 413.47 L235.10 410.40 L235.47 407.37 L235.85 404.35 L236.20 401.30 L236.52 398.07 L236.81 394.81 L237.10 391.60 L237.66 385.78 L238.00 382.90 L238.94 377.10 L239.40 374.20 L240.06 368.43 L240.40 365.50 L240.82 362.32 L241.26 359.08 L241.70 355.90 L242.50 350.15 L242.90 347.20 L243.30 343.69 L243.70 340.06 L244.20 336.60 L244.77 333.62 L245.42 330.78 L246.10 328.50 L246.88 326.59 L247.30 326.20 L247.70 326.38 L248.13 326.90 L248.50 327.60 L249.00 329.76 L249.60 335.70 L250.05 338.84 L250.53 342.07 L251.00 345.30 L251.43 348.52 L251.84 351.74 L252.30 354.90 L253.41 360.71 L253.90 363.60 L254.49 369.39 L254.80 372.30 L255.23 375.29 L255.71 378.30 L256.20 381.30 L256.64 384.27 L257.10 387.24 L257.70 390.20 L258.53 393.25 L259.51 396.30 L260.60 399.30 L261.80 402.25 L263.12 405.15 L264.50 408.00 L265.93 410.70 L267.43 413.35 L268.90 416.00 L270.31 418.66 L271.71 421.33 L273.10 424.00 L274.49 426.67 L275.88 429.33 L277.30 432.00 L278.79 434.75 L280.32 437.50 L281.80 440.10 L284.29 444.85 L285.40 446.00 L285.89 445.92 L286.36 445.56 L286.80 445.00 L287.74 442.77 L288.58 439.55 L289.30 436.30 L289.88 433.29 L290.35 430.25 L290.80 427.20 L291.27 424.17 L291.71 421.14 L292.10 418.10 L292.41 415.07 L292.66 412.03 L292.90 409.00 L293.14 406.00 L293.36 403.01 L293.60 400.00 L293.86 396.88 L294.13 393.73 L294.40 390.60 L294.67 387.52 L294.94 384.46 L295.20 381.40 L295.44 378.37 L295.67 375.35 L295.90 372.30 L296.13 369.13 L296.36 365.95 L296.60 362.80 L297.12 356.93 L297.69 351.01 L298.00 348.00 L298.30 345.00 L298.60 342.00 L298.90 339.00 L299.20 336.00 L299.50 333.01 L299.80 330.02 L300.10 327.00 L300.44 323.79 L300.79 320.54 L301.10 317.30 L301.30 314.05 L301.46 310.81 L301.70 307.70 L302.03 304.58 L302.44 301.56 L302.90 300.20 L303.53 301.94 L304.24 305.77 L304.90 309.60 L305.49 312.70 L306.03 315.80 L306.50 318.90 L306.85 321.94 L307.13 324.96 L307.40 328.00 L307.67 331.06 L307.92 334.14 L308.20 337.20 L308.52 340.24 L308.87 343.26 L309.20 346.30 L309.50 349.37 L309.78 352.45 L310.10 355.50 L310.88 361.30 L311.75 367.23 L312.22 370.28 L313.18 376.18 L314.20 381.90 L314.74 384.92 L315.30 387.97 L315.90 391.00 L316.54 393.98 L317.23 396.95 L318.00 399.90 L318.89 402.86 L319.87 405.79 L320.90 408.70 L321.96 411.52 L323.07 414.32 L325.33 419.87 L326.48 422.64 L327.70 425.40 L329.08 428.24 L330.53 431.08 L332.00 433.90 L333.44 436.68 L334.90 439.45 L336.40 442.20 L338.06 445.21 L339.76 448.19 L341.69 451.10 L342.13 451.63 L342.60 451.80 L343.72 450.54 L344.95 447.90 L346.00 445.10 L346.85 442.14 L347.49 438.97 L348.00 435.80 L348.39 432.76 L348.65 429.73 L348.90 426.70 L349.14 423.70 L349.36 420.71 L349.60 417.70 L349.89 414.61 L350.21 411.49 L350.50 408.40 L350.75 405.40 L350.98 402.41 L351.20 399.40 L351.41 396.31 L351.61 393.19 L351.80 390.10 L351.97 387.09 L352.14 384.11 L352.30 381.10 L352.46 378.01 L352.63 374.90 L352.80 371.80 L352.99 368.76 L353.19 365.73 L353.40 362.70 L353.62 359.63 L353.85 356.56 L354.10 353.50 L354.40 350.49 L354.71 347.49 L355.21 341.54 L355.60 335.60 L355.86 332.55 L356.14 329.48 L356.40 326.40 L356.62 323.30 L356.81 320.19 L357.00 317.10 L357.17 314.09 L357.50 308.10 L357.66 305.07 L357.81 302.04 L358.00 299.00 L358.24 295.94 L358.52 292.87 L358.80 289.80 L359.02 286.66 L359.23 283.51 L359.60 280.50 L360.18 277.44 L360.88 274.50 L361.50 273.20 L362.00 274.91 L362.40 278.64 L362.70 282.40 L362.87 285.62 L362.93 288.87 L363.00 292.10 L363.11 295.19 L363.24 298.25 L363.40 301.30 L363.61 304.34 L363.86 307.36 L364.10 310.40 L364.31 313.46 L364.51 316.53 L364.70 319.60 L364.87 322.63 L365.03 325.66 L365.20 328.70 L365.38 331.80 L365.57 334.90 L365.80 338.00 L366.06 341.04 L366.36 344.07 L366.70 347.10 L367.10 350.21 L367.54 353.32 L368.00 356.40 L368.95 362.19 L369.40 365.10 L369.81 368.15 L370.19 371.23 L370.60 374.30 L371.03 377.35 L371.48 380.39 L372.00 383.40 L373.32 389.12 L374.00 392.00 L374.63 395.09 L375.24 398.22 L375.90 401.30 L377.34 407.00 L378.20 409.80 L379.23 412.58 L381.50 418.10 L382.56 420.97 L383.62 423.87 L384.80 426.70 L386.18 429.40 L387.69 432.04 L389.20 434.70 L390.71 437.51 L392.23 440.34 L393.80 443.10 L395.48 445.91 L397.21 448.66 L398.70 450.60 L399.22 451.13 L399.69 451.50 L400.20 451.60 L401.31 450.98 L402.54 449.62 L403.60 448.00 L404.55 445.44 L405.19 442.39 L405.70 439.30 L406.12 436.29 L406.42 433.25 L406.70 430.20 L407.02 427.14 L407.33 424.07 L407.60 421.00 L407.83 417.96 L408.02 414.92 L408.20 411.90 L408.53 405.97 L408.89 400.01 L409.09 397.01 L409.30 394.00 L409.53 390.97 L409.78 387.94 L410.00 384.90 L410.18 381.84 L410.34 378.77 L410.50 375.70 L410.66 372.61 L410.83 369.51 L411.00 366.40 L411.19 363.27 L411.39 360.13 L411.60 357.00 L411.82 353.92 L412.05 350.85 L412.30 347.80 L412.91 341.87 L413.20 338.90 L413.43 335.84 L413.62 332.77 L413.80 329.70 L413.97 326.67 L414.13 323.64 L414.30 320.60 L414.50 317.50 L414.71 314.39 L414.90 311.30 L415.04 308.29 L415.30 302.30 L415.49 299.27 L415.71 296.24 L415.90 293.20 L416.04 290.14 L416.17 287.07 L416.30 284.00 L416.46 280.90 L416.64 277.79 L416.80 274.70 L416.93 271.69 L417.06 268.71 L417.20 265.70 L417.38 262.62 L417.58 259.52 L417.80 256.40 L418.05 252.50 L418.33 248.58 L418.60 246.80 L418.81 247.75 L419.20 252.20 L419.54 258.10 L419.70 261.20 L419.89 264.29 L420.10 267.40 L420.30 270.50 L420.50 273.57 L420.70 276.64 L420.90 279.70 L421.10 282.74 L421.31 285.77 L421.50 288.80 L421.68 291.83 L421.84 294.86 L422.00 297.90 L422.13 300.96 L422.26 304.04 L422.40 307.10 L422.57 310.14 L422.77 313.17 L423.00 316.20 L423.28 319.27 L423.60 322.34 L423.90 325.40 L424.18 328.44 L424.44 331.47 L424.70 334.50 L424.91 337.50 L425.11 340.50 L425.40 343.50 L425.86 346.54 L426.42 349.59 L427.00 352.60 L428.24 358.31 L428.80 361.20 L429.24 364.28 L429.60 367.40 L430.00 370.50 L430.46 373.52 L430.95 376.52 L431.50 379.50 L432.83 385.29 L433.50 388.20 L434.12 391.24 L434.72 394.32 L435.30 397.40 L435.86 400.48 L436.40 403.55 L437.00 406.60 L437.66 409.55 L438.37 412.47 L439.10 415.40 L439.85 418.40 L440.62 421.41 L441.40 424.40 L442.17 427.35 L442.95 430.29 L443.80 433.20 L445.74 438.81 L446.80 441.60 L447.97 444.43 L449.20 447.26 L450.40 450.10 L451.50 453.02 L452.57 455.96 L453.80 458.80 L455.30 461.99 L456.95 465.09 L458.60 466.60 L459.75 466.20 L460.90 465.03 L461.90 463.60 L462.92 461.37 L463.68 458.68 L464.30 455.90 L464.77 452.93 L465.08 449.86 L465.40 446.80 L466.23 440.87 L466.60 437.90 L466.90 434.87 L467.16 431.83 L467.40 428.80 L467.61 425.80 L467.81 422.80 L468.00 419.80 L468.20 416.77 L468.39 413.74 L468.60 410.70 L468.83 407.64 L469.08 404.57 L469.30 401.50 L469.48 398.46 L469.63 395.43 L469.80 392.40 L470.00 389.40 L470.21 386.41 L470.40 383.40 L470.54 380.31 L470.67 377.19 L470.80 374.10 L470.96 371.09 L471.12 368.11 L471.30 365.10 L471.49 362.01 L471.70 358.91 L471.90 355.80 L472.11 352.70 L472.32 349.61 L472.50 346.50 L472.62 343.33 L472.70 340.15 L472.80 337.00 L472.93 333.98 L473.20 328.00 L473.28 324.97 L473.33 321.94 L473.40 318.90 L473.49 315.80 L473.59 312.69 L473.70 309.60 L473.83 306.59 L473.98 303.61 L474.10 300.60 L474.17 297.51 L474.23 294.40 L474.30 291.30 L474.42 288.23 L474.56 285.16 L474.70 282.10 L474.84 279.06 L474.98 276.03 L475.10 273.00 L475.23 267.01 L475.30 264.00 L475.40 260.89 L475.52 257.76 L475.70 254.70 L475.93 251.29 L476.22 247.93 L476.60 246.40 L477.23 248.11 L477.97 251.91 L478.50 255.70 L478.66 258.70 L478.63 261.69 L478.60 264.70 L478.63 267.79 L478.66 270.91 L478.70 274.00 L478.84 279.99 L478.90 283.00 L478.94 286.09 L478.97 289.20 L479.00 292.30 L479.03 295.34 L479.05 298.37 L479.10 301.40 L479.30 307.39 L479.40 310.40 L479.46 313.53 L479.51 316.67 L479.60 319.80 L479.73 322.82 L480.10 328.80 L480.37 331.81 L480.70 334.81 L481.10 337.80 L482.17 343.67 L482.80 346.60 L483.55 349.56 L484.37 352.52 L485.10 355.50 L485.66 358.52 L486.14 361.57 L486.60 364.60 L487.08 367.57 L487.54 370.53 L488.00 373.50 L488.43 376.50 L488.86 379.50 L489.30 382.50 L489.79 385.47 L490.29 388.42 L490.80 391.40 L491.29 394.46 L491.79 397.53 L492.30 400.60 L492.86 403.64 L493.45 406.68 L494.00 409.70 L494.93 415.63 L495.40 418.60 L495.91 421.67 L496.43 424.75 L497.00 427.80 L498.26 433.60 L498.90 436.50 L499.50 439.53 L500.11 442.59 L500.80 445.60 L501.65 448.49 L502.59 451.34 L503.50 454.20 L504.34 457.12 L505.15 460.06 L506.00 463.00 L506.95 465.97 L507.94 468.94 L508.90 471.90 L509.76 474.81 L510.59 477.71 L511.50 480.60 L512.55 483.51 L513.69 486.41 L514.90 489.30 L516.22 492.84 L517.62 496.37 L519.00 498.00 L520.19 496.96 L521.38 494.57 L522.40 492.00 L523.24 489.29 L523.85 486.37 L524.40 483.40 L524.94 480.33 L525.40 477.22 L525.80 474.10 L526.13 471.00 L526.41 467.90 L526.70 464.80 L527.04 461.68 L527.39 458.55 L527.70 455.40 L527.95 452.13 L528.16 448.83 L528.40 445.60 L528.98 439.85 L529.62 434.08 L530.30 428.20 L530.69 425.20 L531.11 422.19 L531.60 419.20 L532.20 416.23 L533.50 410.40 L533.92 407.29 L534.31 404.24 L534.90 402.70 L535.28 402.75 L535.70 403.09 L536.10 403.60 L536.93 406.02 L537.67 409.58 L538.60 413.00 L539.92 415.64 L541.42 418.16 L542.60 420.80 L543.20 423.78 L543.46 426.89 L543.70 430.00 L544.00 433.04 L544.28 436.07 L544.60 439.10 L544.97 442.11 L545.38 445.10 L545.80 448.10 L546.14 451.13 L546.50 454.15 L547.10 457.10 L548.10 459.91 L549.34 462.64 L550.60 465.40 L551.83 468.30 L553.09 471.22 L554.40 474.10 L555.76 476.92 L557.18 479.70 L558.70 482.40 L560.25 485.14 L561.90 487.80 L563.90 489.90 L566.45 490.88 L569.32 491.35 L571.80 492.40 L573.66 494.74 L575.06 497.75 L576.30 500.80 L577.41 503.67 L578.37 506.59 L580.23 512.30 L582.00 517.90 L582.89 520.88 L583.74 523.91 L584.50 526.90 L585.07 530.30 L585.56 533.67 L586.10 535.20 L586.79 533.31 L587.53 529.30 L588.30 525.70 L589.37 522.08 L590.00 521.30 L590.74 521.81 L591.55 523.09 L592.20 524.50 L592.61 526.60 L592.80 528.91 L593.00 530.00 L593.21 529.62 L593.60 527.60 L593.79 524.92 L593.85 521.55 L593.90 518.20 L593.94 515.18 L593.96 512.19 L594.10 509.20 L594.32 506.16 L594.64 503.12 L595.30 500.20 L596.43 497.50 L597.89 494.92 L599.40 492.40 L600.86 489.54 L602.37 486.74 L603.90 485.40 L605.05 486.14 L606.20 487.83 L607.60 489.30 L609.81 490.23 L614.80 491.40 L618.58 492.63 L620.00 492.60 L620.64 491.69 L621.02 490.43 L621.40 489.80 L621.84 490.42 L622.27 491.79 L622.80 493.20 L623.73 495.05 L624.82 496.96 L625.90 498.00 L626.50 497.81 L627.08 497.34 L627.60 497.20 L628.27 499.60 L628.60 503.52 L629.00 505.60 L629.57 503.80 L630.19 500.43 L630.80 498.60 L631.21 499.19 L632.52 503.76 L633.03 505.70 L633.50 507.80 L633.98 510.71 L634.38 513.86 L634.80 517.00 L635.26 520.04 L635.74 523.08 L636.20 526.10 L637.09 532.03 L637.50 535.00 L637.89 538.03 L638.26 541.07 L638.60 544.10 L639.20 550.03 L639.50 553.00 L639.76 556.13 L640.03 559.26 L640.50 562.00 L640.98 563.82 L641.56 565.44 L642.30 566.30 L643.02 566.26 L643.82 565.82 L644.50 565.10 L645.22 562.74 L645.50 559.38 L645.70 556.00 L645.93 552.87 L646.07 549.72 L646.20 546.60 L646.42 540.73 L646.50 537.80 L646.45 534.67 L646.37 531.53 L646.60 528.80 L647.09 526.98 L647.74 525.36 L648.30 524.70 L648.79 526.76 L649.11 530.88 L649.50 534.20 L650.03 535.90 L650.30 536.20 L650.76 534.21 L651.19 530.56 L651.60 528.60 L651.99 530.07 L652.37 533.32 L652.80 536.60 L654.05 542.35 L654.60 545.30 L654.94 549.21 L655.15 553.18 L655.40 555.00 L655.78 553.40 L656.19 549.86 L656.50 546.30 L656.59 543.32 L656.56 540.32 L656.60 537.30 L656.59 534.06 L656.64 530.80 L657.30 527.90 L658.89 525.88 L660.98 524.17 L662.70 522.20 L663.56 518.91 L663.99 515.33 L664.80 513.50 L666.30 514.99 L668.18 518.25 L670.30 520.70 L672.26 521.38 L674.39 521.51 L676.40 521.10 L678.52 519.23 L680.50 516.63 L682.20 515.50 L683.61 517.19 L684.70 520.52 L685.60 523.90 L686.30 526.83 L686.80 529.81 L687.30 532.80 L687.83 535.83 L688.34 538.87 L688.90 541.90 L689.54 544.87 L690.23 547.83 L690.90 550.80 L691.37 553.91 L691.82 557.04 L692.70 559.90 L694.06 562.42 L695.80 564.71 L697.90 566.30 L700.75 567.09 L703.99 567.13 L706.60 566.30 L708.10 564.39 L709.03 561.66 L709.70 558.80 L710.16 555.79 L710.33 552.62 L710.50 549.40 L710.81 545.20 L711.12 540.95 L711.40 539.00 L711.56 540.07 L711.90 545.00 L712.65 550.85 L713.00 553.60 L713.21 557.61 L713.50 558.50 L714.29 557.09 L715.33 554.40 L716.20 553.00 L716.80 554.72 L717.15 558.36 L717.50 562.00" stroke="#d62728" stroke-width="3.6" stroke-dasharray="3.47 5.73" stroke-linecap="butt"/>
</g>
<g stroke="#000" stroke-width="1.7" fill="none">
<line x1="133.20" y1="591.0" x2="133.20" y2="586.14"/>
<line x1="213.27" y1="591.0" x2="213.27" y2="586.14"/>
<line x1="293.34" y1="591.0" x2="293.34" y2="586.14"/>
<line x1="373.41" y1="591.0" x2="373.41" y2="586.14"/>
<line x1="453.48" y1="591.0" x2="453.48" y2="586.14"/>
<line x1="533.55" y1="591.0" x2="533.55" y2="586.14"/>
<line x1="613.62" y1="591.0" x2="613.62" y2="586.14"/>
<line x1="693.69" y1="591.0" x2="693.69" y2="586.14"/>
<line x1="104.0" y1="572.20" x2="108.86" y2="572.20"/>
<line x1="104.0" y1="494.04" x2="108.86" y2="494.04"/>
<line x1="104.0" y1="415.88" x2="108.86" y2="415.88"/>
<line x1="104.0" y1="337.72" x2="108.86" y2="337.72"/>
<line x1="104.0" y1="259.56" x2="108.86" y2="259.56"/>
<line x1="104.0" y1="181.40" x2="108.86" y2="181.40"/>
<line x1="104.0" y1="103.24" x2="108.86" y2="103.24"/>
</g>
<rect x="104.0" y="79.4" width="643.20" height="511.60" fill="none" stroke="#000" stroke-width="2.05" stroke-linejoin="miter"/>
<g font-family="'DejaVu Sans', 'Liberation Sans', sans-serif" fill="#000" stroke="#000" stroke-width="0.4" stroke-linejoin="round">
<g font-size="18.06" text-anchor="middle">
<text x="133.20" y="613.1">0</text>
<text x="213.27" y="613.1">1000</text>
<text x="293.34" y="613.1">2000</text>
<text x="373.41" y="613.1">3000</text>
<text x="453.48" y="613.1">4000</text>
<text x="533.55" y="613.1">5000</text>
<text x="613.62" y="613.1">6000</text>
<text x="693.69" y="613.1">7000</text>
</g>
<g font-size="18.06" text-anchor="end">
<text x="95.2" y="579.20">0.0</text>
<text x="95.2" y="501.04">0.2</text>
<text x="95.2" y="422.88">0.4</text>
<text x="95.2" y="344.72">0.6</text>
<text x="95.2" y="266.56">0.8</text>
<text x="95.2" y="188.40">1.0</text>
<text x="95.2" y="110.24">1.2</text>
</g>
<text x="103.7" y="72.3" font-size="15.5">1e4</text>
<text x="426.0" y="636.2" font-size="22.9" text-anchor="middle">Days</text>
<text transform="translate(57.1 334.5) rotate(-90)" font-size="22.9" text-anchor="middle" xml:space="preserve">FOPR  (STB/DAY)</text>
<rect x="538.1" y="89.95" width="198.6" height="129.6" rx="4.2" ry="4.2" fill="#fff" fill-opacity="0.8" stroke="#ccc" stroke-opacity="0.8" stroke-width="2.1"/>
<line x1="546.4" y1="106.5" x2="588.1" y2="106.5" stroke="#1f77b4" stroke-width="3.6" stroke-linecap="square"/>
<line x1="546.4" y1="137.7" x2="588.1" y2="137.7" stroke="#ff7f0e" stroke-width="3.6" stroke-linecap="square"/>
<line x1="546.4" y1="168.8" x2="588.1" y2="168.8" stroke="#2ca02c" stroke-width="3.6" stroke-linecap="square"/>
<line x1="546.4" y1="199.9" x2="588.1" y2="199.9" stroke="#d62728" stroke-width="3.6" stroke-dasharray="3.47 5.73"/>
<g font-size="20.83">
<text x="604.4" y="113.90">OCP_FIM</text>
<text x="604.4" y="145.10">OCP_IMPEC</text>
<text x="604.4" y="176.20">OCP_AIM</text>
<text x="604.4" y="207.30">Commercial</text>
</g>
</g>
</svg>
</body></html>
